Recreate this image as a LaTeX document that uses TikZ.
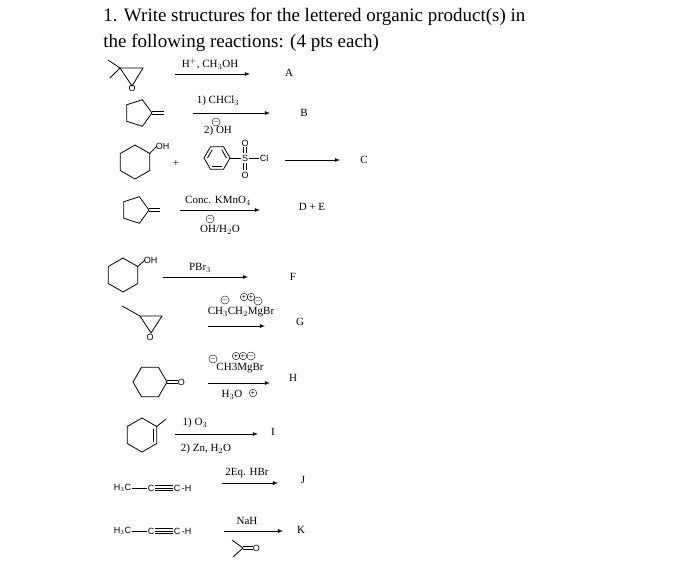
\documentclass[tikz,border=0pt]{standalone}
\usepackage{fontspec}
\setmainfont{Liberation Serif}
\newfontfamily\atomfont{Liberation Sans}
\begin{document}
\begin{tikzpicture}[x=1pt,y=-1pt,line width=0.8pt,
  rx/.style={-latex},
  lab/.style={font=\fontsize{11}{12}\selectfont,inner sep=0pt},
  prod/.style={font=\fontsize{11}{12}\selectfont,inner sep=0pt},
  atom/.style={font=\atomfont\fontsize{9}{10}\selectfont,inner sep=0.5pt},
  chg/.style={circle,draw,line width=0.4pt,inner sep=0pt,minimum size=7.5pt,font=\atomfont\fontsize{7}{7}\selectfont}]
\fill[white] (0,0) rectangle (700,566);
\node[anchor=west,font=\fontsize{19}{22}\selectfont,inner sep=0pt] (t1) at (103,17) {1. Write structures for the lettered organic product(s) in};
\node[anchor=west,font=\fontsize{19}{22}\selectfont,inner sep=0pt] (t2) at (103,43) {the following reactions: (4 pts each)};
% A
\draw (108,60)--(120,68)--(110,78); \draw (120,68)--(143,68)--(132,86)--cycle;
\node[atom] (oa) at (132,88) {O};
\coordinate (a1) at (175,74); \coordinate (a2) at (250,74);
\draw[rx] (a1)--(a2);
\node[lab] (la) at (210,64) {H$^{+}$, CH$_3$OH};
\node[prod] (A) at (289,73) {A};
% B
\draw (138,113) +(0:14) -- +(72:14) -- +(144:14) -- +(216:14) -- +(288:14) -- cycle;
\draw (152,111.5)--(164,111.5); \draw (152,114.5)--(164,114.5);
\coordinate (b1) at (193,113); \coordinate (b2) at (270,113);
\draw[rx] (b1)--(b2);
\node[lab] (lb1) at (218,101) {1) CHCl$_3$};
\node[chg] (mb) at (216,122) {$-$};
\node[lab] (lb2) at (218,131) {2) OH};
\node[prod] (B) at (304,113) {B};
% C
\draw (135,162) +(30:17) -- +(90:17) -- +(150:17) -- +(210:17) -- +(270:17) -- +(330:17) -- cycle;
\draw (149.7,153.5)--(157,146);
\node[atom,anchor=west] (ohc) at (155,146) {OH};
\node[lab] (plus) at (176,163) {+};
\draw (217,158) +(0:13) -- +(60:13) -- +(120:13) -- +(180:13) -- +(240:13) -- +(300:13) -- cycle;
\draw (217,158) +(60:9.5) -- +(120:9.5);
\draw (217,158) +(180:9.5) -- +(240:9.5);
\draw (217,158) +(300:9.5) -- +(0:9.5);
\node[atom] (S) at (245,158) {S};
\draw (230,158)--(S);
\draw (243.5,153)--(243.5,147); \draw (246.5,153)--(246.5,147);
\draw (243.5,163)--(243.5,170); \draw (246.5,163)--(246.5,170);
\node[atom] (o1) at (245,143) {O};
\node[atom] (o2) at (245,175) {O};
\node[atom] (cl) at (264,158) {Cl};
\draw (S)--(cl);
\coordinate (c1) at (285,160); \coordinate (c2) at (340,160);
\draw[rx] (c1)--(c2);
\node[prod] (C) at (364,160) {C};
% D
\draw (135,210) +(0:14) -- +(72:14) -- +(144:14) -- +(216:14) -- +(288:14) -- cycle;
\draw (149,208.5)--(160,208.5); \draw (149,211.5)--(160,211.5);
\coordinate (d1) at (180,210); \coordinate (d2) at (260,210);
\draw[rx] (d1)--(d2);
\node[lab] (ld1) at (218,201) {Conc. KMnO$_4$};
\node[chg] (md) at (210,219) {$-$};
\node[lab] (ld2) at (220,230) {OH/H$_2$O};
\node[prod] (DE) at (312,207) {D + E};
% F
\draw (123,275) +(30:17) -- +(90:17) -- +(150:17) -- +(210:17) -- +(270:17) -- +(330:17) -- cycle;
\draw (137.7,266.5)--(145,260);
\node[atom,anchor=west] (ohf) at (143,260) {OH};
\coordinate (f1) at (163,277); \coordinate (f2) at (248,277);
\draw[rx] (f1)--(f2);
\node[lab] (lf) at (200,268) {PBr$_3$};
\node[prod] (F) at (293,277) {F};
% G
\draw (122,306)--(140,316); \draw (140,316)--(162,316)--(151,333)--cycle;
\node[atom] (og) at (150,337) {O};
\node[chg] (g1) at (225,300) {$-$};
\node[chg] (g2) at (244,297) {+};
\node[chg] (g3) at (251,297) {+};
\node[chg] (g4) at (258,301) {$-$};
\node[lab] (lg) at (241,312) {CH$_3$CH$_2$MgBr};
\coordinate (g5) at (208,326); \coordinate (g6) at (265,326);
\draw[rx] (g5)--(g6);
\node[prod] (G) at (300,322) {G};
% H
\draw (150,382) +(0:17) -- +(60:17) -- +(120:17) -- +(180:17) -- +(240:17) -- +(300:17) -- cycle;
\draw (167,380.5)--(178,380.5); \draw (167,383.5)--(178,383.5);
\node[atom,anchor=west] (oh) at (177,382) {O};
\node[chg] (h1) at (213,359) {$-$};
\node[chg] (h2) at (236,356) {+};
\node[chg] (h3) at (243,356) {+};
\node[chg] (h4) at (251,356) {$-$};
\node[lab] (lh) at (240,368) {CH3MgBr};
\coordinate (h5) at (208,383); \coordinate (h6) at (270,383);
\draw[rx] (h5)--(h6);
\node[lab] (lh2) at (232,395) {H$_3$O};
\node[chg] (h7) at (253,393) {+};
\node[prod] (H) at (293,378) {H};
% I
\draw (142,435) +(30:17) -- +(90:17) -- +(150:17) -- +(210:17) -- +(270:17) -- +(330:17) -- cycle;
\draw (153.7,428.5)--(153.7,441.5);
\draw (156.7,426.5)--(166,419);
\coordinate (i1) at (175,434); \coordinate (i2) at (258,434);
\draw[rx] (i1)--(i2);
\node[lab] (li1) at (195,423) {1) O$_3$};
\node[lab] (li2) at (206,449) {2) Zn, H$_2$O};
\node[prod] (I) at (273,432) {I};
% J
\node[atom,anchor=west] (j0) at (113,488) {H$_3$C};
\node[atom] (jc1) at (151,488) {C};
\node[atom] (jc2) at (177,488) {C};
\node[atom,anchor=west] (jh) at (181,488) {-H};
\draw (j0)--(jc1);
\draw (jc1.east)--(jc2.west);
\draw ([yshift=-2.5pt]jc1.east)--([yshift=-2.5pt]jc2.west);
\draw ([yshift=2.5pt]jc1.east)--([yshift=2.5pt]jc2.west);
\coordinate (j1) at (222,483); \coordinate (j2) at (278,483);
\draw[rx] (j1)--(j2);
\node[lab] (lj) at (247,473) {2Eq. HBr};
\node[prod] (J) at (303,480) {J};
% K
\node[atom,anchor=west] (k0) at (113,531) {H$_3$C};
\node[atom] (kc1) at (151,531) {C};
\node[atom] (kc2) at (177,531) {C};
\node[atom,anchor=west] (kh) at (181,531) {-H};
\draw (k0)--(kc1);
\draw (kc1.east)--(kc2.west);
\draw ([yshift=-2.5pt]kc1.east)--([yshift=-2.5pt]kc2.west);
\draw ([yshift=2.5pt]kc1.east)--([yshift=2.5pt]kc2.west);
\coordinate (k1) at (224,531); \coordinate (k2) at (283,531);
\draw[rx] (k1)--(k2);
\node[lab] (lk) at (247,521) {NaH};
\draw (232,540)--(243,548)--(233,557);
\draw (243,546.5)--(253,546.5); \draw (243,549.5)--(253,549.5);
\node[atom,anchor=west] (ok) at (252,548) {O};
\node[prod] (K) at (301,530) {K};
\end{tikzpicture}
\end{document}
